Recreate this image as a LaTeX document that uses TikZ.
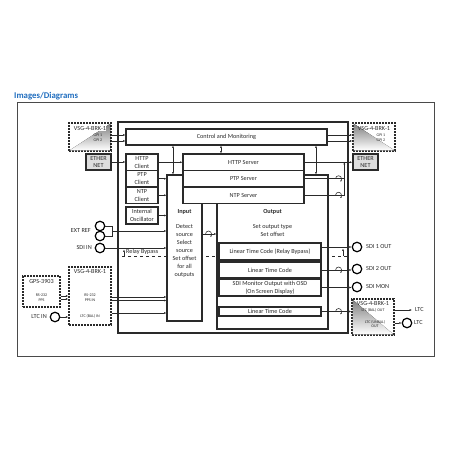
\documentclass[tikz,border=0pt]{standalone}
\usepackage{fontspec}
\setmainfont{Carlito}
\usetikzlibrary{arrows.meta}
\definecolor{ink}{HTML}{2A2A2A}
\definecolor{shade}{HTML}{CFCFCF}
\definecolor{titleblue}{HTML}{1F6DBF}

\newcommand{\hopsym}[1]{\draw[hop] (#1) ++(-3,0) arc (180:420:3);}

\begin{document}
\begin{tikzpicture}[x=1pt, y=-1pt,
        box/.style={draw=ink, line width=1.1pt, fill=white, inner sep=0pt,
                    align=center, text=ink, font=\fontsize{6.2}{7.9}\selectfont},
        vsg/.style={draw=ink, line width=1.3pt, dash pattern=on 2pt off 1pt,
                    inner sep=0pt, fill=white},
        eth/.style={box, fill=shade!70, line width=1.3pt},
        conn/.style={circle, draw=black, line width=1.2pt, fill=white, minimum size=9.5pt, inner sep=0pt,
                    path picture={\fill (path picture bounding box.center) circle (1.4pt);}},
        lbl/.style={inner sep=0pt, text=ink, font=\fontsize{6.2}{7.9}\selectfont},
        tiny/.style={inner sep=0pt, text=ink, align=center, font=\fontsize{4}{4.8}\selectfont},
        arr/.style={-{Latex[length=2.4pt,width=2pt]}, line width=0.65pt, draw=ink},
        dbl/.style={{Latex[length=2.4pt,width=2pt]}-{Latex[length=2.4pt,width=2pt]}, line width=0.65pt, draw=ink},
        ln/.style={line width=0.65pt, draw=ink},
        hop/.style={line width=0.55pt, draw=ink, -{Latex[length=1.5pt,width=1.5pt]}}
    ]
        \useasboundingbox[fill=white] (0,0) rectangle (450,450);
        \node[anchor=west, inner sep=0pt, text=titleblue, font=\bfseries\fontsize{8.8}{10}\selectfont] (ttl) at (14,96) {Images/Diagrams};
        \node[draw=ink!85, line width=1pt, minimum width=417pt, minimum height=254pt, inner sep=0pt] (frame) at (225.5,229) {};
        \node[box, minimum width=230pt, minimum height=211pt] (main) at (233,227.5) {};

        \coordinate (rbL) at (122,256);
        \coordinate (rbR) at (347,256);
        \draw[ln, dashed] (rbL) -- (rbR);

        \node[box, minimum width=35pt, minimum height=146pt] (input) at (184.5,248) {};
        \node[box, minimum width=111pt, minimum height=154pt] (output) at (272.5,252) {};
        \node[lbl, font=\bfseries\fontsize{6.2}{7.9}\selectfont] (inT) at (184.5,212) {Input};
        \node[lbl, align=center, anchor=north] (inD) at (184.5,224.5) {Detect\\source\\Select\\source\\Set offset\\for all\\outputs};
        \node[lbl, font=\bfseries\fontsize{6.2}{7.9}\selectfont] (outT) at (272.5,212) {Output};
        \node[lbl, align=center, anchor=north] (outD) at (272.5,224.5) {Set output type\\Set offset};

        \node[box, line width=1.2pt, minimum width=102pt, minimum height=17pt] (ltcRB) at (270,251.5) {Linear Time Code (Relay Bypass)};
        \node[box, line width=1.2pt, minimum width=102pt, minimum height=16pt] (ltc2) at (270,270) {Linear Time Code};
        \node[box, line width=1.2pt, minimum width=102pt, minimum height=17pt] (mon) at (270,287.5) {SDI Monitor Output with OSD\\(On Screen Display)};
        \node[box, line width=1.2pt, minimum width=102pt, minimum height=9pt] (ltc3) at (270,311.5) {Linear Time Code};

        \node[box, minimum width=201pt, minimum height=16pt] (ctl) at (226.5,137) {Control and Monitoring};
        \node[box, minimum width=121pt, minimum height=16.5pt] (httpS) at (243.5,162.25) {HTTP Server};
        \node[box, minimum width=121pt, minimum height=16.5pt] (ptpS) at (243.5,178.75) {PTP Server};
        \node[box, minimum width=121pt, minimum height=16.5pt] (ntpS) at (243.5,195.25) {NTP Server};
        \node[box, minimum width=32pt, minimum height=16.5pt] (httpC) at (142,162.25) {HTTP\\Client};
        \node[box, minimum width=32pt, minimum height=16.5pt] (ptpC) at (142,178.75) {PTP\\Client};
        \node[box, minimum width=32pt, minimum height=16.5pt] (ntpC) at (142,195.25) {NTP\\Client};
        \node[box, line width=1.2pt, minimum width=32pt, minimum height=17pt] (osc) at (142,215.5) {Internal\\Oscillator};

        \node[vsg, minimum width=42pt, minimum height=28pt] (vsgTL) at (90,137) {};
        \fill[shade] ([xshift=1.4pt,yshift=1.4pt]vsgTL.south west) -- ([xshift=-1.4pt,yshift=1.4pt]vsgTL.south east)
            -- ([xshift=-1.4pt,yshift=-1.4pt]vsgTL.north east) -- cycle;
        \node[lbl, fill=white, inner sep=0.3pt] (vsgTLt) at (90,128.5) {VSG-4-BRK-1};
        \node[tiny] (vsgTLg) at (98,138) {GPI 1\\GPI 2};
        \node[eth, minimum width=25pt, minimum height=16pt] (ethL) at (98.5,162) {ETHER\\NET};
        \node[vsg, minimum width=42pt, minimum height=28pt] (vsgTR) at (374,137) {};
        \fill[shade] ([xshift=1.4pt,yshift=1.4pt]vsgTR.south west) -- ([xshift=-1.4pt,yshift=1.4pt]vsgTR.south east)
            -- ([xshift=1.4pt,yshift=-1.4pt]vsgTR.north west) -- cycle;
        \node[lbl] (vsgTRt) at (374,128.5) {VSG-4-BRK-1};
        \node[tiny] (vsgTRg) at (381,138) {GPI 1\\GPI 2};
        \node[eth, minimum width=25pt, minimum height=16pt] (ethR) at (365.5,162) {ETHER\\NET};

        \node[vsg, minimum width=37pt, minimum height=31pt] (gps) at (41.5,291.5) {};
        \node[lbl] (gpsT) at (41.5,282) {GPS-3903};
        \node[tiny] (gpsS) at (41.5,298) {RS-232\\PPS};
        \node[vsg, minimum width=42pt, minimum height=58pt] (vsgBL) at (90,296) {};
        \node[lbl] (vsgBLt) at (90,272) {VSG-4-BRK-1};
        \node[tiny] (vsgBLs) at (90,298) {RS-232\\PPS IN};
        \node[tiny] (vsgBLl) at (90,316) {LTC (BAL) IN};
        \node[vsg, minimum width=42pt, minimum height=36pt] (vsgBR) at (373,317) {};
        \fill[shade] ([xshift=1.4pt,yshift=1.4pt]vsgBR.south west) -- ([xshift=-1.4pt,yshift=1.4pt]vsgBR.south east)
            -- ([xshift=1.4pt,yshift=-1.4pt]vsgBR.north west) -- cycle;
        \node[lbl] (vsgBRt) at (373,303.5) {VSG-4-BRK-1};
        \node[tiny] (vsgBRa) at (373,310.5) {LTC (BAL) OUT};
        \node[tiny] (vsgBRb) at (375,324) {LTC (UNBAL)\\OUT};

        \node[conn] (extA) at (100,226) {};
        \node[conn] (extB) at (100,236) {};
        \node[conn] (sdiIn) at (100,248) {};
        \node[conn] (ltcIn) at (55,317) {};
        \node[conn] (sdi1) at (357,247) {};
        \node[conn] (sdi2) at (357,269) {};
        \node[conn] (sdiMon) at (357,287) {};
        \node[conn] (ltcCon) at (407,323) {};
        \coordinate (ltcA) at (412,310);

        \node[lbl, anchor=east] (extL) at (91,231) {EXT REF};
        \node[lbl, anchor=east] (sdiInL) at (92,248) {SDI IN};
        \node[lbl, anchor=east] (ltcInL) at (47,317) {LTC IN};
        \node[lbl, anchor=west] (sdi1L) at (366,247) {SDI 1 OUT};
        \node[lbl, anchor=west] (sdi2L) at (366,269) {SDI 2 OUT};
        \node[lbl, anchor=west] (monL) at (366,287) {SDI MON};
        \node[lbl, anchor=west] (ltcAL) at (415,310) {LTC};
        \node[lbl, anchor=west] (ltcBL) at (414,323) {LTC};
        \node[lbl, anchor=west] (rbT) at (126,251.5) {Relay Bypass};

        \draw[arr] ([yshift=2pt]vsgTL.east) -- ([yshift=2pt]vsgTL.east -| ctl.west);
        \draw[arr] ([yshift=-4pt]vsgTL.east) -- ([yshift=-4pt]vsgTL.east -| ctl.west);
        \draw[arr] ([yshift=2pt]ctl.east) -- ([yshift=2pt]ctl.east -| vsgTR.west);
        \draw[arr] ([yshift=-4pt]ctl.east) -- ([yshift=-4pt]ctl.east -| vsgTR.west);
        \draw[arr] (ethL.east) -- (ethL.east -| httpC.west);
        \draw[arr] (httpC.east) -- (httpC.east -| httpS.west);
        \draw[dbl] ([xshift=-11.5pt]input.north |- ctl.south) -- ([xshift=-11.5pt]input.north);
        \draw[dbl] ([xshift=-22.5pt]httpS.north |- ctl.south) -- ([xshift=-22.5pt]httpS.north);
        \draw[dbl] ([xshift=43.5pt]output.north |- ctl.south) -- ([xshift=43.5pt]output.north);
        \draw[arr] (httpS.east) -- (httpS.east -| ethR.west);
        \draw[arr] (ntpS.east) -| ([xshift=-8pt]ethR.west);
        \draw[ln] (ptpS.east) -- ([xshift=-8pt]ethR.west |- ptpS.east);
        \hopsym{[xshift=34pt]ptpS.east}
        \hopsym{[xshift=34pt]ntpS.east}

        \draw[arr] (ptpC.east) -- (ptpC.east -| input.west);
        \draw[arr] (ntpC.east) -- (ntpC.east -| input.west);
        \draw[arr] (osc.east) -- (osc.east -| input.west);
        \draw[ln] (extA.east) -| ([xshift=7pt]extB.east) -- (extB.east);
        \draw[arr] ([xshift=7pt,yshift=-5pt]extA.east) -- ([yshift=-5pt]extA.east -| input.west);
        \draw[arr] (sdiIn.east) -- (sdiIn.east -| input.west);
        \draw[arr] ([yshift=-4.5pt]gps.east) -- ([yshift=-4.5pt]gps.east -| vsgBL.west);
        \draw[arr] ([yshift=-7.5pt]gps.east) -- ([yshift=-7.5pt]gps.east -| vsgBL.west);
        \draw[arr] (ltcIn.east) -- (ltcIn.east -| vsgBL.west);
        \draw[arr] ([yshift=-1pt]vsgBL.east) -- ([yshift=-1pt]vsgBL.east -| input.west);
        \draw[arr] ([yshift=-4.5pt]vsgBL.east) -- ([yshift=-4.5pt]vsgBL.east -| input.west);
        \draw[arr] ([yshift=-17pt]vsgBL.east) -- ([yshift=-17pt]vsgBL.east -| input.west);
        \draw[arr] ([yshift=14pt]input.east) -- ([yshift=14pt]input.east -| output.west);
        \hopsym{[xshift=6pt,yshift=14pt]input.east}

        \draw[arr] (sdi1.west -| ltcRB.east) -- (sdi1.west);
        \draw[arr] (ltc2.east) -- (ltc2.east -| sdi2.west);
        \hopsym{[xshift=17pt]ltc2.east}
        \draw[arr] (mon.east) -- (mon.east -| sdiMon.west);
        \draw[arr] (ltc3.east) -- (ltc3.east -| vsgBR.west);
        \hopsym{[xshift=17pt]ltc3.east}
        \draw[arr] ([yshift=7pt]vsgBR.east) -- (ltcA);
        \draw[arr] (vsgBR.east |- ltcCon) -- (ltcCon.west);

        \coordinate (rbUpL) at (124,256);
        \coordinate (rbUpR) at (343,256);
        \draw[arr] (rbUpL) -- ([yshift=-1.5pt]rbUpL |- sdiIn);
        \draw[arr] (rbUpR) -- ([yshift=-1.5pt]rbUpR |- sdi1);
    \end{tikzpicture}
\end{document}
